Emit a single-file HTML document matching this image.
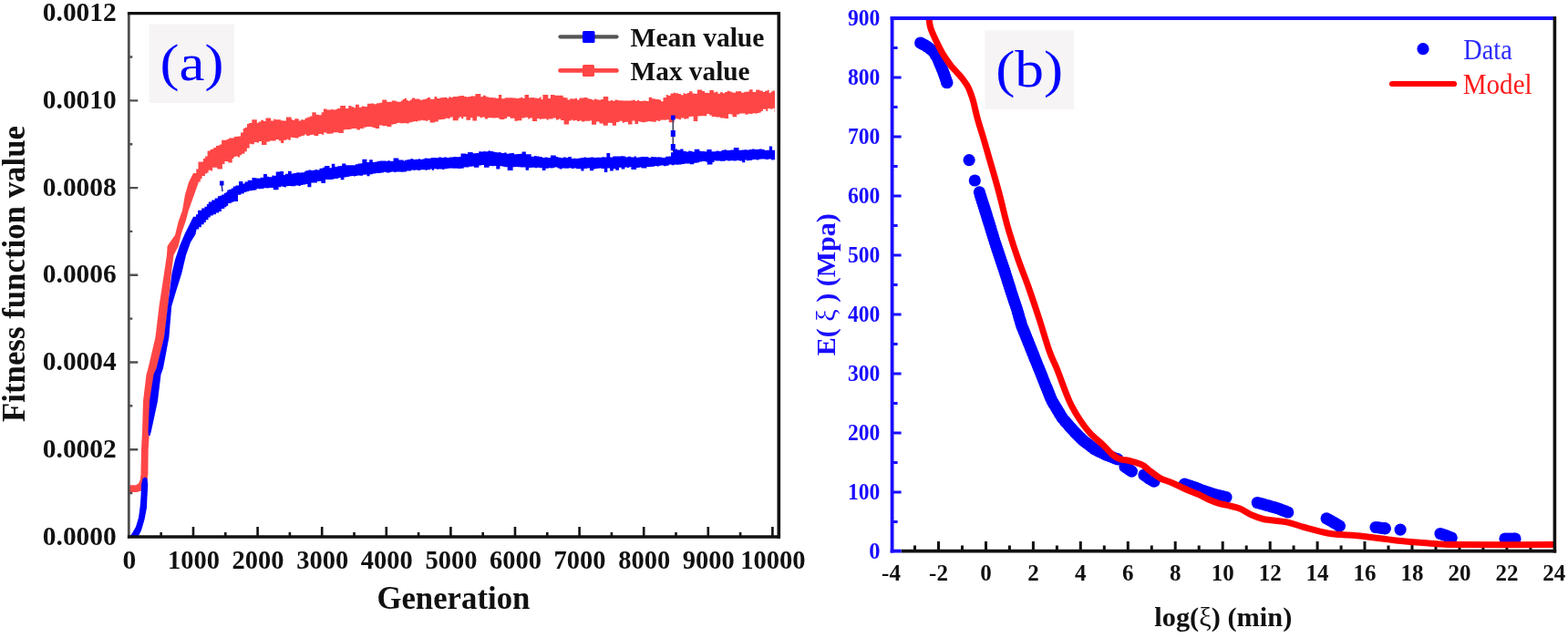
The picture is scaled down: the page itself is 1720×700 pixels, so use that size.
<!DOCTYPE html>
<html><head><meta charset="utf-8"><style>
html,body{margin:0;padding:0;background:#fff;}
svg{display:block;}
.b{font-family:"Liberation Serif","DejaVu Serif",serif;font-weight:bold;fill:#111;}
.lbl{font-family:"Liberation Serif","DejaVu Serif",serif;font-weight:normal;}
.r{font-weight:normal;}
</style></head><body>
<svg width="1720" height="700" viewBox="0 0 1720 700">
<defs><clipPath id="clipb"><rect x="978" y="20" width="728" height="586"/></clipPath></defs>
<rect width="1720" height="700" fill="#fff"/>
<g>
<rect x="163.5" y="26.6" width="93.5" height="86.4" fill="#f6f4f4"/>
<text x="210.5" y="88" class="lbl" font-size="56" fill="#0000ff" text-anchor="middle" textLength="70" lengthAdjust="spacingAndGlyphs">(a)</text>
<path d="M141.5,540 L141.5,532.3 L149,532.3 L152,530.5 L153.8,526.5 L154.5,520 L155,493 L156,474 L157,440 L160.5,411 L162.5,404 L170.5,370 L174.5,336 L180,300 L183,280 L183.6,270 L187,265 L192,258 L195.7,243 L200,231 L202.9,214 L207,200 L212,190.1 L215.3,190.1 L215.3,185.4 L217.5,185.4 L217.5,177.6 L222.9,177.6 L222.9,174.1 L225.1,174.1 L225.1,171.4 L227.6,171.4 L227.6,165.5 L230.7,165.5 L230.7,164 L232.7,164 L232.7,163.4 L234.4,163.4 L234.4,161.9 L236.9,161.9 L236.9,160 L239.5,160 L239.5,159.4 L241.1,159.4 L241.1,158.6 L243.1,158.6 L243.1,153.8 L248.6,153.8 L248.6,152.8 L251.1,152.8 L251.1,151.6 L254.2,151.6 L254.2,151.4 L256.7,151.4 L256.7,150 L259.5,150 L259.5,149.8 L261.7,149.8 L261.7,149.6 L264,149.6 L264,145.6 L266.7,145.6 L266.7,141 L268.6,141 L268.6,139.8 L271,139.8 L271,135.9 L273,135.9 L273,134.9 L276.3,134.9 L276.3,131.3 L281.8,131.3 L281.8,134.8 L283.7,134.8 L283.7,133.5 L286.3,133.5 L286.3,131.7 L289.1,131.7 L289.1,133 L291.5,133 L291.5,129.5 L297.2,129.5 L297.2,132.4 L300.2,132.4 L300.2,130.5 L301.8,130.5 L301.8,131.2 L304.7,131.2 L304.7,131.2 L307.9,131.2 L307.9,132.3 L310.8,132.3 L310.8,132.5 L313.9,132.5 L313.9,128.5 L319.7,128.5 L319.7,131.2 L321.6,131.2 L321.6,132 L323.2,132 L323.2,130.3 L325.8,130.3 L325.8,130.2 L327.7,130.2 L327.7,132.4 L330,132.4 L330,131.2 L332.2,131.2 L332.2,131.6 L334.7,131.6 L334.7,129.5 L337.3,129.5 L337.3,128.4 L340,128.4 L340,127.6 L342.4,127.6 L342.4,123.3 L346.7,123.3 L346.7,125.8 L349.8,125.8 L349.8,126.3 L352.6,126.3 L352.6,123.3 L354.9,123.3 L354.9,119.5 L358.6,119.5 L358.6,120.4 L363.4,120.4 L363.4,119.8 L365.6,119.8 L365.6,120.6 L368.4,120.6 L368.4,119.8 L370.1,119.8 L370.1,118.9 L373.2,118.9 L373.2,115.9 L379,115.9 L379,119.1 L382.3,119.1 L382.3,115.9 L385.4,115.9 L385.4,117.3 L388,117.3 L388,118.2 L390,118.2 L390,114.8 L393.9,114.8 L393.9,117.8 L396.7,117.8 L396.7,116.6 L399.4,116.6 L399.4,116.9 L402.9,116.9 L402.9,113.8 L406.9,113.8 L406.9,113.4 L410,113.4 L410,114.3 L413.1,114.3 L413.1,113.2 L416.4,113.2 L416.4,112.7 L419.2,112.7 L419.2,109.6 L424.2,109.6 L424.2,111.8 L426.4,111.8 L426.4,111.7 L429.7,111.7 L429.7,110.5 L434.7,110.5 L434.7,111.4 L437,111.4 L437,111.7 L439.8,111.7 L439.8,110.6 L441.7,110.6 L441.7,108.8 L444,108.8 L444,107.7 L446,107.7 L446,110.1 L447.8,110.1 L447.8,110.7 L449.9,110.7 L449.9,109.6 L451.8,109.6 L451.8,107.4 L455,107.4 L455,108.4 L458.2,108.4 L458.2,108.5 L460.6,108.5 L460.6,109.8 L463.6,109.8 L463.6,108.9 L466.7,108.9 L466.7,108.3 L469,108.3 L469,107.1 L472,107.1 L472,108.7 L474.6,108.7 L474.6,108.8 L476.5,108.8 L476.5,106 L479.3,106 L479.3,108 L482.7,108 L482.7,107.3 L485,107.3 L485,107 L488.1,107 L488.1,106.7 L490.5,106.7 L490.5,107.9 L492.2,107.9 L492.2,106.3 L494.5,106.3 L494.5,107.1 L496.8,107.1 L496.8,106.1 L499.2,106.1 L499.2,105.9 L502.6,105.9 L502.6,105.3 L505.8,105.3 L505.8,105.1 L509.1,105.1 L509.1,106.1 L511.8,106.1 L511.8,106.4 L513.7,106.4 L513.7,106 L516.8,106 L516.8,105.3 L518.5,105.3 L518.5,105.6 L521.4,105.6 L521.4,103.1 L527.4,103.1 L527.4,106.2 L529.8,106.2 L529.8,104.8 L532.9,104.8 L532.9,106.2 L536.1,106.2 L536.1,106.9 L539,106.9 L539,106.9 L541.1,106.9 L541.1,107.2 L543.7,107.2 L543.7,107.8 L547,107.8 L547,104.1 L550.3,104.1 L550.3,108.2 L553.8,108.2 L553.8,107.2 L556.3,107.2 L556.3,107.3 L560.3,107.3 L560.3,107.3 L562.8,107.3 L562.8,107.4 L565.9,107.4 L565.9,108.1 L569.1,108.1 L569.1,107.6 L571.3,107.6 L571.3,106.8 L573.2,106.8 L573.2,107.7 L575.5,107.7 L575.5,104.1 L580,104.1 L580,107.2 L583.1,107.2 L583.1,107 L586.1,107 L586.1,107.4 L588.5,107.4 L588.5,107.8 L591.7,107.8 L591.7,106.5 L593.7,106.5 L593.7,108.9 L595.4,108.9 L595.4,103.9 L601.3,103.9 L601.3,108.1 L603.9,108.1 L603.9,104 L608.5,104 L608.5,104.7 L612.9,104.7 L612.9,104.8 L617.7,104.8 L617.7,106.8 L619.7,106.8 L619.7,107.3 L622.6,107.3 L622.6,109.4 L625.1,109.4 L625.1,108.2 L628,108.2 L628,108.4 L630.6,108.4 L630.6,107.7 L633,107.7 L633,109.5 L635.5,109.5 L635.5,107.4 L637.8,107.4 L637.8,107.5 L640.3,107.5 L640.3,107 L644.5,107 L644.5,108.3 L647.3,108.3 L647.3,108.7 L649.7,108.7 L649.7,109.7 L651.9,109.7 L651.9,108.5 L654.2,108.5 L654.2,109.3 L656.9,109.3 L656.9,109.8 L659.2,109.8 L659.2,108.9 L661.7,108.9 L661.7,106.1 L667.3,106.1 L667.3,110.7 L669.7,110.7 L669.7,109.9 L672.2,109.9 L672.2,110.7 L674.5,110.7 L674.5,109.5 L676.7,109.5 L676.7,109.7 L678.4,109.7 L678.4,110.2 L680.9,110.2 L680.9,110.2 L682.9,110.2 L682.9,110.5 L685.8,110.5 L685.8,110.6 L688.4,110.6 L688.4,110.5 L691.8,110.5 L691.8,110.2 L693.9,110.2 L693.9,109.8 L696.9,109.8 L696.9,110.9 L698.8,110.9 L698.8,110 L701.3,110 L701.3,110.9 L704.1,110.9 L704.1,110.8 L706.4,110.8 L706.4,110.6 L708.9,110.6 L708.9,110.9 L711.7,110.9 L711.7,106.8 L715.2,106.8 L715.2,108.2 L718.8,108.2 L718.8,108.9 L723.1,108.9 L723.1,109.6 L725.1,109.6 L725.1,111.2 L727.5,111.2 L727.5,107 L730.8,107 L730.8,104.1 L732.5,104.1 L732.5,104.8 L735.6,104.8 L735.6,102.4 L738.9,102.4 L738.9,101.5 L740.5,101.5 L740.5,102.3 L744,102.3 L744,102.9 L746.9,102.9 L746.9,104.3 L749.7,104.3 L749.7,101.9 L751.3,101.9 L751.3,103.1 L753.7,103.1 L753.7,102 L755.9,102 L755.9,100.3 L759.5,100.3 L759.5,102.6 L761.6,102.6 L761.6,102.7 L764.9,102.7 L764.9,98.5 L770.2,98.5 L770.2,99.9 L773.1,99.9 L773.1,101.8 L776.5,101.8 L776.5,102 L778.3,102 L778.3,98.9 L782.9,98.9 L782.9,101.5 L784.7,101.5 L784.7,100.8 L787.4,100.8 L787.4,102.8 L789.9,102.8 L789.9,101.3 L792.9,101.3 L792.9,102.3 L795.2,102.3 L795.2,100.9 L797.6,100.9 L797.6,99.8 L800.5,99.8 L800.5,100.5 L802.7,100.5 L802.7,101.4 L805.1,101.4 L805.1,101.8 L806.9,101.8 L806.9,100.2 L808.8,100.2 L808.8,100.3 L810.8,100.3 L810.8,100.1 L812.9,100.1 L812.9,101.5 L814.7,101.5 L814.7,101.7 L816.4,101.7 L816.4,100.8 L819.6,100.8 L819.6,100.6 L821.9,100.6 L821.9,98.3 L825.7,98.3 L825.7,101.1 L829.2,101.1 L829.2,98.6 L833.3,98.6 L833.3,99.6 L836.7,99.6 L836.7,101.1 L839,101.1 L839,99.8 L841.7,99.8 L841.7,98.8 L843.7,98.8 L843.7,102 L845.6,102 L845.6,100.5 L847.4,100.5 L847.4,99.5 L849.8,99.5 L849.8,100.3 L850,100.3 L850,122.9 L849.6,122.9 L849.6,118.8 L847.4,118.8 L847.4,119.8 L845.2,119.8 L845.2,118.9 L842.2,118.9 L842.2,121.9 L840.3,121.9 L840.3,119.8 L836.9,119.8 L836.9,122.1 L834.8,122.1 L834.8,123.5 L832.9,123.5 L832.9,124 L830.9,124 L830.9,124.6 L828.1,124.6 L828.1,124.3 L825.6,124.3 L825.6,125.1 L823.3,125.1 L823.3,124.8 L820.5,124.8 L820.5,125.7 L817.6,125.7 L817.6,124.4 L814.4,124.4 L814.4,124.5 L811.2,124.5 L811.2,125.6 L808.2,125.6 L808.2,128.3 L803.5,128.3 L803.5,125.5 L801.2,125.5 L801.2,124.9 L799.1,124.9 L799.1,130 L795,130 L795,129.5 L790.1,129.5 L790.1,128.6 L785.1,128.6 L785.1,128 L780.7,128 L780.7,126.6 L778.2,126.6 L778.2,124.9 L775.3,124.9 L775.3,127.2 L772.5,127.2 L772.5,127.1 L770,127.1 L770,127.2 L767,127.2 L767,127.6 L765.3,127.6 L765.3,133 L760.7,133 L760.7,127.8 L757.7,127.8 L757.7,127.9 L755.6,127.9 L755.6,130.3 L753,130.3 L753,130.6 L750.1,130.6 L750.1,129.4 L747,129.4 L747,131.2 L745,131.2 L745,130.4 L742.9,130.4 L742.9,130.3 L739.6,130.3 L739.6,134.3 L733.7,134.3 L733.7,131.3 L730.9,131.3 L730.9,131.8 L728.6,131.8 L728.6,131.6 L726.4,131.6 L726.4,131.8 L724.2,131.8 L724.2,132.9 L722.1,132.9 L722.1,132.3 L719.8,132.3 L719.8,133.8 L716.9,133.8 L716.9,133.6 L713.4,133.6 L713.4,132.9 L710.9,132.9 L710.9,133.5 L709.3,133.5 L709.3,133.8 L707.6,133.8 L707.6,134.3 L704.2,134.3 L704.2,133.7 L701.8,133.7 L701.8,133.2 L700.1,133.2 L700.1,135.9 L696.4,135.9 L696.4,132.6 L693.5,132.6 L693.5,136.5 L689,136.5 L689,133.8 L686.2,133.8 L686.2,133.9 L684.6,133.9 L684.6,134.8 L682.7,134.8 L682.7,132.8 L679.4,132.8 L679.4,134 L676,134 L676,137.7 L671.8,137.7 L671.8,135.1 L670,135.1 L670,134.7 L666.8,134.7 L666.8,137.7 L661.7,137.7 L661.7,135.5 L657.5,135.5 L657.5,133.5 L654.1,133.5 L654.1,136.7 L649,136.7 L649,132.3 L647.3,132.3 L647.3,132.7 L644.6,132.7 L644.6,132.8 L641.3,132.8 L641.3,133.4 L637.8,133.4 L637.8,132.2 L635.9,132.2 L635.9,133.1 L633.1,133.1 L633.1,132 L630.5,132 L630.5,132.6 L628.4,132.6 L628.4,131.6 L626.6,131.6 L626.6,132.6 L624.1,132.6 L624.1,136.4 L618.6,136.4 L618.6,132 L615.2,132 L615.2,130.5 L612.7,130.5 L612.7,131.4 L609.9,131.4 L609.9,129.4 L606.5,129.4 L606.5,130.4 L604.2,130.4 L604.2,130.5 L601.4,130.5 L601.4,131.8 L599.7,131.8 L599.7,130.3 L596.6,130.3 L596.6,130.6 L593.5,130.6 L593.5,131 L591.8,131 L591.8,130 L589.1,130 L589.1,132.9 L584,132.9 L584,129.6 L580.9,129.6 L580.9,130.6 L579.1,130.6 L579.1,128.8 L575.6,128.8 L575.6,129.5 L572.4,129.5 L572.4,132.2 L567.8,132.2 L567.8,132.7 L564.5,132.7 L564.5,129.8 L562.3,129.8 L562.3,129.8 L559.5,129.8 L559.5,128.1 L556.1,128.1 L556.1,129.9 L553.4,129.9 L553.4,130.9 L550.2,130.9 L550.2,130.9 L547.9,130.9 L547.9,129.4 L546.2,129.4 L546.2,129.3 L543.5,129.3 L543.5,129.5 L540.1,129.5 L540.1,129.2 L537.2,129.2 L537.2,129.3 L535,129.3 L535,130.5 L531.8,130.5 L531.8,128.4 L528.9,128.4 L528.9,129.2 L526.6,129.2 L526.6,127.8 L523.1,127.8 L523.1,132.4 L518.4,132.4 L518.4,129.3 L516,129.3 L516,131.8 L511.4,131.8 L511.4,128 L508.3,128 L508.3,130.3 L506.1,130.3 L506.1,128.2 L504.3,128.2 L504.3,129.4 L502.7,129.4 L502.7,132.2 L496.7,132.2 L496.7,128.4 L493.8,128.4 L493.8,130.1 L491.5,130.1 L491.5,129.7 L488.5,129.7 L488.5,130.8 L486,130.8 L486,131 L483.2,131 L483.2,131.3 L480.8,131.3 L480.8,133.4 L477,133.4 L477,134.4 L471.6,134.4 L471.6,131.8 L469.4,131.8 L469.4,132.8 L466.8,132.8 L466.8,132.2 L463.6,132.2 L463.6,131.7 L461.7,131.7 L461.7,132.5 L458.2,132.5 L458.2,133.4 L456.4,133.4 L456.4,133.1 L454.7,133.1 L454.7,133.4 L452,133.4 L452,134.3 L448.7,134.3 L448.7,135.5 L445.7,135.5 L445.7,135.1 L443.6,135.1 L443.6,135.2 L441,135.2 L441,135.2 L439.1,135.2 L439.1,134.8 L436.5,134.8 L436.5,135.1 L434.9,135.1 L434.9,136.1 L432.1,136.1 L432.1,136.5 L429.4,136.5 L429.4,139.1 L424.3,139.1 L424.3,138 L422.3,138 L422.3,138.3 L419.6,138.3 L419.6,137.5 L416.1,137.5 L416.1,140.9 L411.6,140.9 L411.6,139.9 L408.5,139.9 L408.5,139.1 L405.1,139.1 L405.1,138.9 L401.8,138.9 L401.8,139.8 L398.8,139.8 L398.8,141.3 L397.2,141.3 L397.2,140.9 L394.9,140.9 L394.9,142.5 L391.4,142.5 L391.4,141.1 L389.5,141.1 L389.5,141.1 L386.3,141.1 L386.3,141.6 L384.6,141.6 L384.6,142 L382,142 L382,141.9 L378.6,141.9 L378.6,142.4 L376.8,142.4 L376.8,146.1 L371.4,146.1 L371.4,145.2 L365.7,145.2 L365.7,146.4 L362.3,146.4 L362.3,146.8 L358.4,146.8 L358.4,145.5 L355.1,145.5 L355.1,148 L353.5,148 L353.5,147.1 L351,147.1 L351,146.9 L349.3,146.9 L349.3,149 L344.6,149 L344.6,147.8 L342.4,147.8 L342.4,147.9 L339.7,147.9 L339.7,148.9 L336.3,148.9 L336.3,147.6 L334.1,147.6 L334.1,148.8 L332,148.8 L332,149 L330.3,149 L330.3,150 L327.6,150 L327.6,151.6 L325.5,151.6 L325.5,151.6 L323.8,151.6 L323.8,151 L320.8,151 L320.8,150.7 L318.8,150.7 L318.8,153.8 L316.5,153.8 L316.5,152.7 L314.4,152.7 L314.4,153.8 L311.3,153.8 L311.3,157 L308.1,157 L308.1,154.6 L305.8,154.6 L305.8,153 L302.7,153 L302.7,154.4 L299.3,154.4 L299.3,154.6 L295.9,154.6 L295.9,155.5 L292.5,155.5 L292.5,159.1 L287,159.1 L287,155.1 L284.1,155.1 L284.1,156.5 L281.7,156.5 L281.7,156.1 L278.9,156.1 L278.9,158.3 L275.5,158.3 L275.5,157.8 L273.7,157.8 L273.7,162.6 L270.8,162.6 L270.8,166.3 L268.3,166.3 L268.3,168.7 L264.9,168.7 L264.9,170.3 L263,170.3 L263,172.5 L260.9,172.5 L260.9,171.5 L258.5,171.5 L258.5,172.1 L256.4,172.1 L256.4,174.1 L254.7,174.1 L254.7,178.5 L250.3,178.5 L250.3,177 L246.5,177 L246.5,180.1 L243.9,180.1 L243.9,185.6 L238.3,185.6 L238.3,183.8 L236.1,183.8 L236.1,183.8 L233.1,183.8 L233.1,187.4 L231.2,187.4 L231.2,186.7 L228.6,186.7 L228.6,189.6 L226.9,189.6 L226.9,190.4 L224.9,190.4 L224.9,193.1 L221.6,193.1 L221.6,196.3 L219.8,196.3 L219.8,199.6 L218,199.6 L212.9,214 L206.8,231 L203.6,243 L199,256 L195.7,270 L190.5,280 L187.9,300 L184.2,336 L180.3,370 L171.7,404 L169.7,411 L166.3,440 L164,474 L162.7,493 L162.4,520 L161.5,527 L159,533.5 L155,538.5 L150,540Z" fill="#ff4646"/>
<path d="M163,478 L162.5,474 L164,440 L168.5,411 L171.5,404 L180,370 L184,336 L188.5,300 L192,285 L197,270 L202.5,257 L212.1,237.7 L215,237.7 L215,235.2 L217,235.2 L217,230.8 L221.2,230.8 L221.2,228.5 L224.4,228.5 L224.4,226.7 L226.9,226.7 L226.9,224 L228.8,224 L228.8,221.5 L232.3,221.5 L232.3,219.5 L235.7,219.5 L235.7,217.5 L238.9,217.5 L238.9,215.2 L240.9,215.2 L240.9,214.7 L243.2,214.7 L243.2,213.6 L245.8,213.6 L245.8,211.9 L247.7,211.9 L247.7,210.7 L249.3,210.7 L249.3,208.5 L251.3,208.5 L251.3,207.8 L253.8,207.8 L253.8,206.6 L255.9,206.6 L255.9,204.5 L258.5,204.5 L258.5,203.4 L262,203.4 L262,198.9 L266.4,198.9 L266.4,201.6 L268.5,201.6 L268.5,199.5 L271.7,199.5 L271.7,197.7 L274.1,197.7 L274.1,197.8 L276.5,197.8 L276.5,194.9 L280.3,194.9 L280.3,195.6 L283.3,195.6 L283.3,195.8 L285.5,195.8 L285.5,194.8 L289,194.8 L289,190.9 L292.9,190.9 L292.9,193.7 L295.1,193.7 L295.1,194.2 L298.4,194.2 L298.4,192.4 L300,192.4 L300,192.8 L302.7,192.8 L302.7,188.5 L306.8,188.5 L306.8,188.1 L311.1,188.1 L311.1,191.9 L313,191.9 L313,190.7 L316,190.7 L316,187.7 L319.7,187.7 L319.7,190.5 L322.1,190.5 L322.1,190.1 L325.2,190.1 L325.2,189.3 L328.4,189.3 L328.4,189.5 L330.5,189.5 L330.5,189.3 L333.7,189.3 L333.7,188.3 L335.3,188.3 L335.3,187.2 L338.2,187.2 L338.2,186.6 L341.4,186.6 L341.4,186.9 L343.9,186.9 L343.9,186.6 L346.1,186.6 L346.1,186 L348,186 L348,186.6 L350.5,186.6 L350.5,184.8 L353.9,184.8 L353.9,183.7 L356,183.7 L356,182 L361.5,182 L361.5,184.2 L363.8,184.2 L363.8,179.7 L367.4,179.7 L367.4,183 L370.1,183 L370.1,182.2 L373.2,182.2 L373.2,182 L375.2,182 L375.2,179.5 L379.4,179.5 L379.4,181.2 L381.6,181.2 L381.6,181.3 L384.2,181.3 L384.2,181.2 L386.7,181.2 L386.7,181.2 L389.8,181.2 L389.8,180.2 L392.6,180.2 L392.6,179.6 L395.6,179.6 L395.6,179.2 L397.4,179.2 L397.4,174.7 L402.4,174.7 L402.4,177.9 L405.2,177.9 L405.2,175.2 L408.8,175.2 L408.8,178.1 L411.4,178.1 L411.4,177.4 L414,177.4 L414,176.8 L416.9,176.8 L416.9,176.6 L418.7,176.6 L418.7,176.5 L420.8,176.5 L420.8,176.4 L423.4,176.4 L423.4,176.7 L425.7,176.7 L425.7,176.1 L427.3,176.1 L427.3,176.8 L429,176.8 L429,176.8 L431.6,176.8 L431.6,173.4 L437.3,173.4 L437.3,175.6 L439.6,175.6 L439.6,175.5 L442.7,175.5 L442.7,176.4 L444.3,176.4 L444.3,175.4 L447.2,175.4 L447.2,175.1 L450.4,175.1 L450.4,174 L452.6,174 L452.6,174.7 L454.3,174.7 L454.3,174.9 L456.2,174.9 L456.2,174.7 L459.1,174.7 L459.1,174.2 L461.1,174.2 L461.1,174.9 L463.2,174.9 L463.2,174.6 L465.7,174.6 L465.7,173.4 L468.2,173.4 L468.2,173.7 L470.7,173.7 L470.7,173.8 L472.8,173.8 L472.8,173 L475.9,173 L475.9,172.9 L478.5,172.9 L478.5,173.3 L480.8,173.3 L480.8,172.6 L484.3,172.6 L484.3,173.1 L486.7,173.1 L486.7,172.5 L490.1,172.5 L490.1,173 L493,173 L493,172.4 L496.4,172.4 L496.4,172.2 L498.2,172.2 L498.2,172.1 L500.5,172.1 L500.5,172.3 L503.8,172.3 L503.8,171.9 L505.5,171.9 L505.5,168.5 L511.4,168.5 L511.4,169 L513,169 L513,166.9 L518.7,166.9 L518.7,168.3 L521.8,168.3 L521.8,168.1 L525.2,168.1 L525.2,166.2 L528.5,166.2 L528.5,166.4 L530.2,166.4 L530.2,166.1 L532.3,166.1 L532.3,166.3 L535.6,166.3 L535.6,165.3 L537.3,165.3 L537.3,165.8 L539.3,165.8 L539.3,165.9 L540.9,165.9 L540.9,166.5 L542.7,166.5 L542.7,167 L544.6,167 L544.6,167.2 L547.5,167.2 L547.5,167.1 L549.6,167.1 L549.6,167.9 L552.9,167.9 L552.9,167.5 L555.8,167.5 L555.8,168.7 L558.1,168.7 L558.1,168.3 L560.8,168.3 L560.8,168 L563.9,168 L563.9,169.2 L567,169.2 L567,169.1 L570,169.1 L570,168.8 L572.6,168.8 L572.6,166.4 L576.9,166.4 L576.9,169.2 L582.7,169.2 L582.7,171.8 L586,171.8 L586,171.1 L588.5,171.1 L588.5,171.5 L591.6,171.5 L591.6,171.9 L594.9,171.9 L594.9,173 L597.7,173 L597.7,172.5 L600.5,172.5 L600.5,172.9 L604,172.9 L604,170.6 L609.8,170.6 L609.8,171.9 L612.2,171.9 L612.2,172.8 L614.9,172.8 L614.9,173.3 L617.8,173.3 L617.8,172.6 L620.9,172.6 L620.9,172.9 L623.3,172.9 L623.3,171.9 L626.9,171.9 L626.9,174.1 L629.4,174.1 L629.4,173.7 L631.6,173.7 L631.6,173.9 L634.4,173.9 L634.4,173.5 L637.7,173.5 L637.7,173 L640.6,173 L640.6,172.4 L643.1,172.4 L643.1,173 L646.3,173 L646.3,172.8 L648.1,172.8 L648.1,172.6 L651.4,172.6 L651.4,173.1 L653.7,173.1 L653.7,172.8 L657.1,172.8 L657.1,172.7 L660.4,172.7 L660.4,172.2 L662.9,172.2 L662.9,172.4 L665.4,172.4 L665.4,167.9 L669.2,167.9 L669.2,172.5 L672.4,172.5 L672.4,171.6 L675.1,171.6 L675.1,171.6 L678.3,171.6 L678.3,171.5 L681.1,171.5 L681.1,171.2 L684.4,171.2 L684.4,171.4 L686.3,171.4 L686.3,172.6 L688.5,172.6 L688.5,171.7 L690.3,171.7 L690.3,171.7 L692.2,171.7 L692.2,172.4 L695.6,172.4 L695.6,171.5 L697.9,171.5 L697.9,172.7 L700.4,172.7 L700.4,172.4 L702.7,172.4 L702.7,171.9 L705.6,171.9 L705.6,172 L708.9,172 L708.9,172 L711.4,172 L711.4,172.9 L714,172.9 L714,172.1 L716.5,172.1 L716.5,172.2 L719.7,172.2 L719.7,172.4 L721.6,172.4 L721.6,172.3 L723.3,172.3 L723.3,172.6 L726.2,172.6 L726.2,173 L728.2,173 L728.2,173.1 L730,173.1 L730,171.7 L733.4,171.7 L733.4,171.4 L736,171.4 L736,167.2 L738.2,167.2 L738.2,163.9 L741.3,163.9 L741.3,163.6 L743,163.6 L743,164.5 L746.3,164.5 L746.3,163.5 L749.5,163.5 L749.5,165.8 L751.4,165.8 L751.4,166 L753.1,166 L753.1,166.5 L755.2,166.5 L755.2,165.5 L756.8,165.5 L756.8,165.8 L759.4,165.8 L759.4,166.5 L761.8,166.5 L761.8,163.7 L767.3,163.7 L767.3,165.8 L769.3,165.8 L769.3,166.1 L772.6,166.1 L772.6,166.2 L775.4,166.2 L775.4,164 L780.6,164 L780.6,166.3 L782.6,166.3 L782.6,166.3 L785.5,166.3 L785.5,165.6 L788.5,165.6 L788.5,165.9 L791.5,165.9 L791.5,164.8 L794.4,164.8 L794.4,164.2 L796.9,164.2 L796.9,164.9 L799.7,164.9 L799.7,164.7 L802.1,164.7 L802.1,164.6 L804.8,164.6 L804.8,162.1 L810.5,162.1 L810.5,164.8 L813.7,164.8 L813.7,164.5 L816.4,164.5 L816.4,164.2 L819,164.2 L819,164.5 L822,164.5 L822,164.1 L824.9,164.1 L824.9,163.5 L827.9,163.5 L827.9,164.1 L831.3,164.1 L831.3,163.7 L833,163.7 L833,163.6 L836,163.6 L836,164.1 L838.7,164.1 L838.7,165.1 L841,165.1 L841,164.8 L843.8,164.8 L843.8,160.6 L847.1,160.6 L847.1,164.8 L850,164.8 L850,175.1 L848.9,175.1 L848.9,175.4 L846.1,175.4 L846.1,174.6 L843,174.6 L843,174.9 L839.7,174.9 L839.7,174.4 L836.9,174.4 L836.9,174.6 L834.3,174.6 L834.3,174.7 L832.2,174.7 L832.2,175.5 L829.8,175.5 L829.8,175.1 L826.4,175.1 L826.4,175.2 L824.8,175.2 L824.8,176.1 L821.4,176.1 L821.4,176.3 L819.1,176.3 L819.1,175.5 L817.3,175.5 L817.3,178.3 L814.1,178.3 L814.1,176.6 L810.8,176.6 L810.8,176.1 L807.8,176.1 L807.8,176.6 L804.4,176.6 L804.4,176.2 L801.1,176.2 L801.1,176.5 L798.2,176.5 L798.2,176.1 L795.6,176.1 L795.6,176.7 L792.4,176.7 L792.4,176.7 L790,176.7 L790,176.4 L787.2,176.4 L787.2,176.4 L785.1,176.4 L785.1,176.2 L783.5,176.2 L783.5,177.9 L781.5,177.9 L781.5,180.6 L775.7,180.6 L775.7,177.4 L773.9,177.4 L773.9,177 L772,177 L772,177.1 L769.9,177.1 L769.9,177.6 L766.7,177.6 L766.7,178.5 L764.2,178.5 L764.2,178.8 L761.3,178.8 L761.3,180.2 L756.8,180.2 L756.8,179.5 L753.9,179.5 L753.9,179.5 L751,179.5 L751,180 L747.8,180 L747.8,180.4 L744.6,180.4 L744.6,180.7 L741.8,180.7 L741.8,180.4 L739.7,180.4 L739.7,181.2 L736.7,181.2 L736.7,180.6 L733.7,180.6 L733.7,181.7 L730.7,181.7 L730.7,182.2 L727.9,182.2 L727.9,181.4 L724.9,181.4 L724.9,181.8 L723.1,181.8 L723.1,182.5 L720.5,182.5 L720.5,181.9 L718.2,181.9 L718.2,182.7 L715,182.7 L715,182.9 L713,182.9 L713,182.9 L709.5,182.9 L709.5,184.5 L703.6,184.5 L703.6,183.4 L701.3,183.4 L701.3,183.9 L698.1,183.9 L698.1,186 L692.4,186 L692.4,183.2 L690.2,183.2 L690.2,184 L687.9,184 L687.9,183.5 L685.4,183.5 L685.4,185.6 L681.6,185.6 L681.6,183.7 L679,183.7 L679,186.8 L675.3,186.8 L675.3,185.2 L672.8,185.2 L672.8,187.4 L669,187.4 L669,184.4 L666.3,184.4 L666.3,189.1 L662.8,189.1 L662.8,184.9 L659.5,184.9 L659.5,184.6 L657.5,184.6 L657.5,184.7 L655.5,184.7 L655.5,184.9 L653.1,184.9 L653.1,185.4 L651.1,185.4 L651.1,187.2 L647,187.2 L647,184.6 L643.9,184.6 L643.9,185 L640.5,185 L640.5,187.6 L637.4,187.6 L637.4,185.3 L635,185.3 L635,185.2 L632.2,185.2 L632.2,184.6 L629.7,184.6 L629.7,184.9 L626.6,184.9 L626.6,184.3 L624.2,184.3 L624.2,184.7 L621.5,184.7 L621.5,184.8 L619.4,184.8 L619.4,184.5 L616.7,184.5 L616.7,185.5 L613.7,185.5 L613.7,184.4 L611.5,184.4 L611.5,183.5 L608.2,183.5 L608.2,184.2 L606.2,184.2 L606.2,184.6 L604.2,184.6 L604.2,184.2 L601.8,184.2 L601.8,184.8 L598.5,184.8 L598.5,187.1 L594.8,187.1 L594.8,184.3 L591.6,184.3 L591.6,183.8 L589.5,183.8 L589.5,184.3 L586.6,184.3 L586.6,183.7 L583.3,183.7 L583.3,184 L580,184 L580,186.8 L576.6,186.8 L576.6,183.4 L573.8,183.4 L573.8,183.6 L570.7,183.6 L570.7,183.2 L567.7,183.2 L567.7,182.9 L565.3,182.9 L565.3,183.3 L562.6,183.3 L562.6,186.9 L556.7,186.9 L556.7,183.3 L553.3,183.3 L553.3,182.8 L551.2,182.8 L551.2,182.3 L548.4,182.3 L548.4,185.5 L544.3,185.5 L544.3,182 L541.8,182 L541.8,182.3 L539.6,182.3 L539.6,182 L536.6,182 L536.6,183.8 L531,183.8 L531,181.1 L528.1,181.1 L528.1,181.4 L525.4,181.4 L525.4,183.8 L520,183.8 L520,182.6 L517.5,182.6 L517.5,182.8 L514.6,182.8 L514.6,183.5 L511.3,183.5 L511.3,183.6 L508.7,183.6 L508.7,184.8 L505.4,184.8 L505.4,184.9 L502.2,184.9 L502.2,184.8 L499,184.8 L499,184.7 L495.9,184.7 L495.9,184.4 L494,184.4 L494,184.8 L490.8,184.8 L490.8,185.2 L487.5,185.2 L487.5,185.9 L485.1,185.9 L485.1,185.5 L482.7,185.5 L482.7,185.5 L480.9,185.5 L480.9,185.8 L478.8,185.8 L478.8,185.3 L476.1,185.3 L476.1,186.7 L473.8,186.7 L473.8,185.6 L471.8,185.6 L471.8,186.3 L468.6,186.3 L468.6,186.7 L466.5,186.7 L466.5,186.2 L463.2,186.2 L463.2,186.2 L461.2,186.2 L461.2,187.1 L458.5,187.1 L458.5,186.6 L455.3,186.6 L455.3,186.9 L453.7,186.9 L453.7,186.5 L451.2,186.5 L451.2,187.6 L449,187.6 L449,187.4 L445.9,187.4 L445.9,188.5 L442.6,188.5 L442.6,188.8 L439.6,188.8 L439.6,188.4 L436.4,188.4 L436.4,188.4 L434.5,188.4 L434.5,189.1 L432.2,189.1 L432.2,188.5 L429.1,188.5 L429.1,189 L427.3,189 L427.3,189.4 L423.8,189.4 L423.8,188.7 L420.8,188.7 L420.8,189.6 L417.5,189.6 L417.5,190 L415.2,190 L415.2,189.9 L411.9,189.9 L411.9,190.5 L408.7,190.5 L408.7,191.3 L405.6,191.3 L405.6,193.3 L402.5,193.3 L402.5,191.4 L400.7,191.4 L400.7,191.7 L398,191.7 L398,192.8 L394.6,192.8 L394.6,192.4 L392,192.4 L392,193 L389.6,193 L389.6,193.6 L388,193.6 L388,192.9 L386.2,192.9 L386.2,193.2 L383.3,193.2 L383.3,194 L379.9,194 L379.9,194.6 L377.4,194.6 L377.4,197.3 L373.7,197.3 L373.7,195.1 L371.3,195.1 L371.3,195.9 L369.6,195.9 L369.6,196 L366.2,196 L366.2,196.7 L364,196.7 L364,197 L361.9,197 L361.9,197 L360.1,197 L360.1,197 L357,197 L357,201.1 L352.4,201.1 L352.4,198.8 L349.6,198.8 L349.6,198.9 L347.9,198.9 L347.9,200.4 L344.9,200.4 L344.9,200.4 L341.4,200.4 L341.4,205.3 L337.4,205.3 L337.4,202 L335.4,202 L335.4,202.6 L332.4,202.6 L332.4,202.9 L329.8,202.9 L329.8,204.1 L327.6,204.1 L327.6,203.4 L324.2,203.4 L324.2,204.3 L321.5,204.3 L321.5,204.3 L319,204.3 L319,203.9 L316.1,203.9 L316.1,204.3 L313.8,204.3 L313.8,205.4 L312.1,205.4 L312.1,205 L310.4,205 L310.4,204.4 L308.2,204.4 L308.2,205.3 L305.5,205.3 L305.5,208.2 L299.8,208.2 L299.8,206.1 L296.6,206.1 L296.6,205.9 L294.7,205.9 L294.7,206.5 L292.7,206.5 L292.7,206.2 L289.4,206.2 L289.4,207 L286.7,207 L286.7,207.3 L283.6,207.3 L283.6,206.9 L281.5,206.9 L281.5,208.5 L279.6,208.5 L279.6,208.7 L276.5,208.7 L276.5,209.2 L273.2,209.2 L273.2,209.9 L270.6,209.9 L270.6,210.7 L267.7,210.7 L267.7,212.5 L264.3,212.5 L264.3,213.7 L261,213.7 L261,221.1 L256.1,221.1 L256.1,221.8 L253.8,221.8 L253.8,223.1 L250.3,223.1 L250.3,225.8 L248.4,225.8 L248.4,227.3 L246.3,227.3 L246.3,229 L242.9,229 L242.9,231.9 L240.2,231.9 L240.2,233.6 L236.9,233.6 L236.9,235.3 L233.7,235.3 L233.7,236.6 L230.8,236.6 L230.8,238.5 L228.5,238.5 L228.5,241.3 L225.8,241.3 L225.8,244 L223.7,244 L223.7,246.3 L220.9,246.3 L220.9,249.2 L218.1,249.2 L218.1,251.6 L215.6,251.6 L214.5,257 L209,266 L204,280 L199.3,300 L193,320 L188.2,336 L185.4,370 L179,404 L176.5,411 L173,440 L165.7,474 L164.5,478Z" fill="#0000ff"/>
<path d="M141,590 L145,585 L149,578 L152,568 L153.5,557 L154.5,545 L155,532 L156.5,525 L159,523.5 L161.5,525 L162.3,532 L161.5,545 L161,557 L158.5,570 L155,582 L151,590Z" fill="#0000ff"/>
<line x1="243" y1="201" x2="244" y2="210" stroke="#2020a0" stroke-width="1.5"/><rect x="241" y="198.5" width="4.5" height="5" fill="#0000ee"/>
<line x1="738.3" y1="129" x2="738.3" y2="166" stroke="#404060" stroke-width="1.6"/>
<rect x="736" y="126.5" width="4.6" height="5" fill="#0000ff"/><rect x="735.8" y="143" width="5" height="7" fill="#0000ff"/><rect x="735.8" y="158" width="5" height="7" fill="#0000ff"/>
<line x1="141.3" y1="14.7" x2="141.3" y2="590.5" stroke="#505050" stroke-width="2.8"/>
<line x1="139.9" y1="14.7" x2="855.8" y2="14.7" stroke="#111" stroke-width="3.2"/>
<line x1="854.3" y1="13.1" x2="854.3" y2="590.7" stroke="#111" stroke-width="3.6"/>
<line x1="139.9" y1="589" x2="855.8" y2="589" stroke="#111" stroke-width="3.4"/>
<path d="M141.3,541 h4 M141.3,493.2 h10 M141.3,445.3 h4 M141.3,397.5 h10 M141.3,349.6 h4 M141.3,301.8 h10 M141.3,253.9 h4 M141.3,206.1 h10 M141.3,158.2 h4 M141.3,110.4 h10 M141.3,62.5 h4" stroke="#505050" stroke-width="2.4" fill="none"/>
<path d="M176.7,589 v-5 M212,589 v-11 M247.3,589 v-5 M282.6,589 v-11 M317.9,589 v-5 M353.2,589 v-11 M388.5,589 v-5 M423.8,589 v-11 M459.1,589 v-5 M494.4,589 v-11 M529.7,589 v-5 M565,589 v-11 M600.3,589 v-5 M635.6,589 v-11 M670.9,589 v-5 M706.2,589 v-11 M741.5,589 v-5 M776.8,589 v-11 M812.1,589 v-5 M847.4,589 v-11" stroke="#111" stroke-width="2.6" fill="none"/>
<text x="127.8" y="597.5" class="b" font-size="29.5" text-anchor="end" textLength="81" lengthAdjust="spacingAndGlyphs">0.0000</text>
<text x="127.8" y="501.8" class="b" font-size="29.5" text-anchor="end" textLength="81" lengthAdjust="spacingAndGlyphs">0.0002</text>
<text x="127.8" y="406.1" class="b" font-size="29.5" text-anchor="end" textLength="81" lengthAdjust="spacingAndGlyphs">0.0004</text>
<text x="127.8" y="310.4" class="b" font-size="29.5" text-anchor="end" textLength="81" lengthAdjust="spacingAndGlyphs">0.0006</text>
<text x="127.8" y="214.7" class="b" font-size="29.5" text-anchor="end" textLength="81" lengthAdjust="spacingAndGlyphs">0.0008</text>
<text x="127.8" y="119" class="b" font-size="29.5" text-anchor="end" textLength="81" lengthAdjust="spacingAndGlyphs">0.0010</text>
<text x="127.8" y="23.3" class="b" font-size="29.5" text-anchor="end" textLength="81" lengthAdjust="spacingAndGlyphs">0.0012</text>
<text x="141.9" y="624.3" class="b" font-size="29.5" text-anchor="middle">0</text>
<text x="212.5" y="624.3" class="b" font-size="29.5" text-anchor="middle" textLength="57" lengthAdjust="spacingAndGlyphs">1000</text>
<text x="283.1" y="624.3" class="b" font-size="29.5" text-anchor="middle" textLength="57" lengthAdjust="spacingAndGlyphs">2000</text>
<text x="353.7" y="624.3" class="b" font-size="29.5" text-anchor="middle" textLength="57" lengthAdjust="spacingAndGlyphs">3000</text>
<text x="424.3" y="624.3" class="b" font-size="29.5" text-anchor="middle" textLength="57" lengthAdjust="spacingAndGlyphs">4000</text>
<text x="494.9" y="624.3" class="b" font-size="29.5" text-anchor="middle" textLength="57" lengthAdjust="spacingAndGlyphs">5000</text>
<text x="565.5" y="624.3" class="b" font-size="29.5" text-anchor="middle" textLength="57" lengthAdjust="spacingAndGlyphs">6000</text>
<text x="636.1" y="624.3" class="b" font-size="29.5" text-anchor="middle" textLength="57" lengthAdjust="spacingAndGlyphs">7000</text>
<text x="706.7" y="624.3" class="b" font-size="29.5" text-anchor="middle" textLength="57" lengthAdjust="spacingAndGlyphs">8000</text>
<text x="777.3" y="624.3" class="b" font-size="29.5" text-anchor="middle" textLength="57" lengthAdjust="spacingAndGlyphs">9000</text>
<text x="847.9" y="624.3" class="b" font-size="29.5" text-anchor="middle" textLength="71.5" lengthAdjust="spacingAndGlyphs">10000</text>
<text x="497.4" y="667.8" class="b" font-size="36" text-anchor="middle" textLength="168" lengthAdjust="spacingAndGlyphs">Generation</text>
<text transform="translate(26.6,300.5) rotate(-90)" class="b" font-size="35" text-anchor="middle" textLength="325" lengthAdjust="spacingAndGlyphs">Fitness function value</text>
<line x1="614.5" y1="40.3" x2="676.5" y2="40.3" stroke="#555" stroke-width="4.2" stroke-linecap="round"/>
<rect x="639" y="34" width="13.5" height="13" rx="1.5" fill="#0000ff"/>
<line x1="614.5" y1="77.4" x2="676.5" y2="77.4" stroke="#ff4646" stroke-width="4.6" stroke-linecap="round"/>
<rect x="639" y="71" width="13" height="13" rx="1.5" fill="#ff4646"/>
<text x="691.6" y="50.5" class="b" font-size="29" textLength="146.8" lengthAdjust="spacingAndGlyphs">Mean value</text>
<text x="691.6" y="87.6" class="b" font-size="29" textLength="131" lengthAdjust="spacingAndGlyphs">Max value</text>
</g>
<g>
<rect x="1080.4" y="33.4" width="97.5" height="86.4" fill="#f6f4f4"/>
<text x="1129.2" y="94.5" class="lbl" font-size="56" fill="#0000ff" text-anchor="middle" textLength="74" lengthAdjust="spacingAndGlyphs">(b)</text>
<path d="M978.6,572.5 h6 M978.6,540 h10 M978.6,507.5 h6 M978.6,475 h10 M978.6,442.5 h6 M978.6,410 h10 M978.6,377.5 h6 M978.6,345 h10 M978.6,312.5 h6 M978.6,280 h10 M978.6,247.5 h6 M978.6,215 h10 M978.6,182.5 h6 M978.6,150 h10 M978.6,117.5 h6 M978.6,85 h10 M978.6,52.5 h6" stroke="#1a0dff" stroke-width="3" fill="none"/>
<path d="M1003.5,604.6 v-6 M1029.5,604.6 v-10.5 M1055.5,604.6 v-6 M1081.5,604.6 v-10.5 M1107.4,604.6 v-6 M1133.4,604.6 v-10.5 M1159.4,604.6 v-6 M1185.3,604.6 v-10.5 M1211.3,604.6 v-6 M1237.3,604.6 v-10.5 M1263.3,604.6 v-6 M1289.2,604.6 v-10.5 M1315.2,604.6 v-6 M1341.2,604.6 v-10.5 M1367.2,604.6 v-6 M1393.2,604.6 v-10.5 M1419.1,604.6 v-6 M1445.1,604.6 v-10.5 M1471.1,604.6 v-6 M1497,604.6 v-10.5 M1523,604.6 v-6 M1549,604.6 v-10.5 M1575,604.6 v-6 M1601,604.6 v-10.5 M1626.9,604.6 v-6 M1652.9,604.6 v-10.5 M1678.9,604.6 v-6" stroke="#111" stroke-width="3" fill="none"/>
<g fill="#0000ff">
<circle cx="1009.7" cy="47" r="6.6"/>
<circle cx="1012.5" cy="48.5" r="6.6"/>
<circle cx="1015.3" cy="50.1" r="6.6"/>
<circle cx="1018" cy="51.8" r="6.6"/>
<circle cx="1020.5" cy="53.8" r="6.6"/>
<circle cx="1023.1" cy="55.7" r="6.6"/>
<circle cx="1025.1" cy="58.1" r="6.6"/>
<circle cx="1026.7" cy="60.9" r="6.6"/>
<circle cx="1028.3" cy="63.6" r="6.6"/>
<circle cx="1029.6" cy="66.6" r="6.6"/>
<circle cx="1030.8" cy="69.5" r="6.6"/>
<circle cx="1032.1" cy="72.5" r="6.6"/>
<circle cx="1033.3" cy="75.4" r="6.6"/>
<circle cx="1034.5" cy="78.4" r="6.6"/>
<circle cx="1035.6" cy="81.4" r="6.6"/>
<circle cx="1036.7" cy="84.4" r="6.6"/>
<circle cx="1037.7" cy="87.4" r="6.6"/>
<circle cx="1038.7" cy="90.5" r="6.6"/>
<circle cx="1038.8" cy="90.7" r="6.6"/>
<circle cx="1063.1" cy="175.6" r="6.6"/>
<circle cx="1069.3" cy="198" r="6.6"/>
<circle cx="1074.4" cy="210.8" r="6.6"/>
<circle cx="1075.3" cy="213.9" r="6.6"/>
<circle cx="1076.3" cy="216.9" r="6.6"/>
<circle cx="1077.2" cy="220" r="6.6"/>
<circle cx="1078.2" cy="223" r="6.6"/>
<circle cx="1079.1" cy="226.1" r="6.6"/>
<circle cx="1080.1" cy="229.1" r="6.6"/>
<circle cx="1081" cy="232.2" r="6.6"/>
<circle cx="1082" cy="235.2" r="6.6"/>
<circle cx="1082.9" cy="238.3" r="6.6"/>
<circle cx="1083.9" cy="241.4" r="6.6"/>
<circle cx="1084.8" cy="244.4" r="6.6"/>
<circle cx="1085.8" cy="247.5" r="6.6"/>
<circle cx="1086.7" cy="250.5" r="6.6"/>
<circle cx="1087.6" cy="253.6" r="6.6"/>
<circle cx="1088.6" cy="256.7" r="6.6"/>
<circle cx="1089.5" cy="259.7" r="6.6"/>
<circle cx="1090.5" cy="262.8" r="6.6"/>
<circle cx="1091.4" cy="265.8" r="6.6"/>
<circle cx="1092.5" cy="268.9" r="6.6"/>
<circle cx="1093.5" cy="271.9" r="6.6"/>
<circle cx="1094.5" cy="274.9" r="6.6"/>
<circle cx="1095.5" cy="278" r="6.6"/>
<circle cx="1096.5" cy="281" r="6.6"/>
<circle cx="1097.5" cy="284" r="6.6"/>
<circle cx="1098.5" cy="287.1" r="6.6"/>
<circle cx="1099.5" cy="290.1" r="6.6"/>
<circle cx="1100.5" cy="293.1" r="6.6"/>
<circle cx="1101.6" cy="296.2" r="6.6"/>
<circle cx="1102.5" cy="299.2" r="6.6"/>
<circle cx="1103.5" cy="302.3" r="6.6"/>
<circle cx="1104.5" cy="305.3" r="6.6"/>
<circle cx="1105.4" cy="308.4" r="6.6"/>
<circle cx="1106.4" cy="311.4" r="6.6"/>
<circle cx="1107.4" cy="314.5" r="6.6"/>
<circle cx="1108.3" cy="317.5" r="6.6"/>
<circle cx="1109.3" cy="320.6" r="6.6"/>
<circle cx="1110.3" cy="323.6" r="6.6"/>
<circle cx="1111.3" cy="326.7" r="6.6"/>
<circle cx="1112.3" cy="329.7" r="6.6"/>
<circle cx="1113.3" cy="332.7" r="6.6"/>
<circle cx="1114.4" cy="335.8" r="6.6"/>
<circle cx="1115.4" cy="338.8" r="6.6"/>
<circle cx="1116.3" cy="341.9" r="6.6"/>
<circle cx="1117.2" cy="344.9" r="6.6"/>
<circle cx="1118" cy="348" r="6.6"/>
<circle cx="1118.9" cy="351.1" r="6.6"/>
<circle cx="1119.8" cy="354.2" r="6.6"/>
<circle cx="1120.7" cy="357.3" r="6.6"/>
<circle cx="1121.9" cy="360.2" r="6.6"/>
<circle cx="1123.1" cy="363.2" r="6.6"/>
<circle cx="1124.3" cy="366.1" r="6.6"/>
<circle cx="1125.5" cy="369.1" r="6.6"/>
<circle cx="1126.7" cy="372.1" r="6.6"/>
<circle cx="1127.9" cy="375" r="6.6"/>
<circle cx="1129.1" cy="378" r="6.6"/>
<circle cx="1130.3" cy="381" r="6.6"/>
<circle cx="1131.5" cy="383.9" r="6.6"/>
<circle cx="1132.7" cy="386.9" r="6.6"/>
<circle cx="1133.9" cy="389.9" r="6.6"/>
<circle cx="1135" cy="392.9" r="6.6"/>
<circle cx="1136.2" cy="395.8" r="6.6"/>
<circle cx="1137.4" cy="398.8" r="6.6"/>
<circle cx="1138.6" cy="401.8" r="6.6"/>
<circle cx="1139.8" cy="404.7" r="6.6"/>
<circle cx="1141" cy="407.7" r="6.6"/>
<circle cx="1142.2" cy="410.7" r="6.6"/>
<circle cx="1143.4" cy="413.7" r="6.6"/>
<circle cx="1144.5" cy="416.6" r="6.6"/>
<circle cx="1145.7" cy="419.6" r="6.6"/>
<circle cx="1146.9" cy="422.6" r="6.6"/>
<circle cx="1148.1" cy="425.5" r="6.6"/>
<circle cx="1149.3" cy="428.5" r="6.6"/>
<circle cx="1150.5" cy="431.5" r="6.6"/>
<circle cx="1151.7" cy="434.5" r="6.6"/>
<circle cx="1152.9" cy="437.4" r="6.6"/>
<circle cx="1154.3" cy="440.3" r="6.6"/>
<circle cx="1155.9" cy="443" r="6.6"/>
<circle cx="1157.6" cy="445.8" r="6.6"/>
<circle cx="1159.2" cy="448.5" r="6.6"/>
<circle cx="1160.9" cy="451.3" r="6.6"/>
<circle cx="1162.5" cy="454" r="6.6"/>
<circle cx="1164.1" cy="456.7" r="6.6"/>
<circle cx="1165.9" cy="459.4" r="6.6"/>
<circle cx="1168" cy="461.8" r="6.6"/>
<circle cx="1170.1" cy="464.2" r="6.6"/>
<circle cx="1172.2" cy="466.6" r="6.6"/>
<circle cx="1174.3" cy="469" r="6.6"/>
<circle cx="1176.5" cy="471.4" r="6.6"/>
<circle cx="1178.7" cy="473.8" r="6.6"/>
<circle cx="1180.9" cy="476" r="6.6"/>
<circle cx="1183.2" cy="478.3" r="6.6"/>
<circle cx="1185.4" cy="480.5" r="6.6"/>
<circle cx="1187.7" cy="482.8" r="6.6"/>
<circle cx="1190.2" cy="484.8" r="6.6"/>
<circle cx="1192.7" cy="486.7" r="6.6"/>
<circle cx="1195.3" cy="488.7" r="6.6"/>
<circle cx="1197.9" cy="490.6" r="6.6"/>
<circle cx="1200.4" cy="492.5" r="6.6"/>
<circle cx="1203.2" cy="494" r="6.6"/>
<circle cx="1206.1" cy="495.5" r="6.6"/>
<circle cx="1208.9" cy="496.9" r="6.6"/>
<circle cx="1211.8" cy="498.3" r="6.6"/>
<circle cx="1214.7" cy="499.6" r="6.6"/>
<circle cx="1217.7" cy="500.7" r="6.6"/>
<circle cx="1220.7" cy="501.9" r="6.6"/>
<circle cx="1223.7" cy="503" r="6.6"/>
<circle cx="1226" cy="503.9" r="6.6"/>
<circle cx="1234" cy="512" r="6.6"/>
<circle cx="1236.6" cy="513.8" r="6.6"/>
<circle cx="1239.3" cy="515.6" r="6.6"/>
<circle cx="1241.4" cy="517.1" r="6.6"/>
<circle cx="1255" cy="521" r="6.6"/>
<circle cx="1257.6" cy="522.9" r="6.6"/>
<circle cx="1260.2" cy="524.8" r="6.6"/>
<circle cx="1262.9" cy="526.4" r="6.6"/>
<circle cx="1265.7" cy="527.9" r="6.6"/>
<circle cx="1266" cy="528" r="6.6"/>
<circle cx="1299.4" cy="531.2" r="6.6"/>
<circle cx="1302.4" cy="532.2" r="6.6"/>
<circle cx="1305.5" cy="533.2" r="6.6"/>
<circle cx="1308.5" cy="534.2" r="6.6"/>
<circle cx="1311.6" cy="535.2" r="6.6"/>
<circle cx="1314.6" cy="536.3" r="6.6"/>
<circle cx="1317.5" cy="537.5" r="6.6"/>
<circle cx="1320.5" cy="538.6" r="6.6"/>
<circle cx="1323.6" cy="539.7" r="6.6"/>
<circle cx="1326.6" cy="540.6" r="6.6"/>
<circle cx="1329.6" cy="541.6" r="6.6"/>
<circle cx="1332.7" cy="542.6" r="6.6"/>
<circle cx="1335.8" cy="543.4" r="6.6"/>
<circle cx="1338.9" cy="544.1" r="6.6"/>
<circle cx="1342" cy="544.8" r="6.6"/>
<circle cx="1345" cy="545.5" r="6.6"/>
<circle cx="1379.3" cy="551.5" r="6.6"/>
<circle cx="1382.4" cy="552.4" r="6.6"/>
<circle cx="1385.5" cy="553.2" r="6.6"/>
<circle cx="1388.5" cy="554.1" r="6.6"/>
<circle cx="1391.6" cy="554.9" r="6.6"/>
<circle cx="1394.7" cy="555.8" r="6.6"/>
<circle cx="1397.8" cy="556.6" r="6.6"/>
<circle cx="1400.9" cy="557.5" r="6.6"/>
<circle cx="1403.9" cy="558.6" r="6.6"/>
<circle cx="1406.9" cy="559.8" r="6.6"/>
<circle cx="1409.9" cy="560.9" r="6.6"/>
<circle cx="1412.7" cy="562" r="6.6"/>
<circle cx="1455.1" cy="568.8" r="6.6"/>
<circle cx="1457.9" cy="570.3" r="6.6"/>
<circle cx="1460.7" cy="571.8" r="6.6"/>
<circle cx="1463.5" cy="573.5" r="6.6"/>
<circle cx="1466.2" cy="575.2" r="6.6"/>
<circle cx="1468.9" cy="576.9" r="6.6"/>
<circle cx="1469.3" cy="577.2" r="6.6"/>
<circle cx="1509.1" cy="578.5" r="6.6"/>
<circle cx="1512.3" cy="578.9" r="6.6"/>
<circle cx="1515.4" cy="579.3" r="6.6"/>
<circle cx="1518.6" cy="579.7" r="6.6"/>
<circle cx="1519.4" cy="579.8" r="6.6"/>
<circle cx="1536.1" cy="581.1" r="6.6"/>
<circle cx="1580" cy="585.5" r="6.6"/>
<circle cx="1583" cy="586.5" r="6.6"/>
<circle cx="1586.1" cy="587.5" r="6.6"/>
<circle cx="1589" cy="588.8" r="6.6"/>
<circle cx="1592" cy="590" r="6.6"/>
<circle cx="1592" cy="590" r="6.6"/>
<circle cx="1651" cy="591" r="6.6"/>
<circle cx="1654.2" cy="591" r="6.6"/>
<circle cx="1657.4" cy="591" r="6.6"/>
<circle cx="1660.6" cy="591" r="6.6"/>
<circle cx="1662" cy="591" r="6.6"/>
</g>
<path d="M1018.8,18 C1019.1,20 1019.4,25.8 1020.6,30 C1021.8,34.2 1024.2,39 1026,43 C1027.8,47 1029.8,50.9 1031.6,54.3 C1033.4,57.7 1035.2,60.7 1037,63.5 C1038.8,66.3 1040.8,69 1042.5,71.3 C1044.2,73.5 1045.9,75.2 1047.5,77 C1049.1,78.8 1050.6,80.4 1052.2,82.2 C1053.8,84 1055.4,85.8 1057,88 C1058.6,90.2 1060.6,93 1061.9,95.5 C1063.2,98 1064,100.2 1065,103 C1066,105.8 1066.8,107.8 1068,112.5 C1069.2,117.2 1070.8,124.8 1072.5,131 C1074.2,137.2 1076.1,142.7 1078.3,150 C1080.5,157.3 1082.6,165 1085.5,175 C1088.4,185 1092.1,197.5 1095.5,210 C1098.9,222.5 1102.1,237.5 1105.7,250 C1109.3,262.5 1113.2,274.2 1117,285 C1120.8,295.8 1124.4,304.2 1128.2,315 C1132,325.8 1136.2,338.3 1140,350 C1143.8,361.7 1147.8,375.8 1151,385 C1154.2,394.2 1156.4,397.2 1159.5,405 C1162.6,412.8 1166.8,424.7 1169.5,431.5 C1172.2,438.3 1173.1,440.7 1175.7,445.7 C1178.3,450.7 1181.7,456.4 1185.1,461.4 C1188.5,466.4 1191.9,471.1 1196.1,475.6 C1200.3,480.1 1206.3,484.7 1210.3,488.5 C1214.3,492.3 1217,495.9 1220,498.5 C1223,501.1 1225.5,502.6 1228.6,503.8 C1231.7,505 1234.8,504.6 1238.6,505.5 C1242.3,506.4 1248.2,508.1 1251.1,509.2 C1254,510.3 1254.2,510.7 1256,512 C1257.8,513.3 1259.2,515.1 1262.1,517.2 C1264.9,519.3 1269.2,522.7 1273.1,524.8 C1277,526.9 1280.7,527.6 1285.7,529.8 C1290.7,531.9 1298.1,535.6 1302.9,537.7 C1307.7,539.8 1310.5,540.6 1314.3,542.3 C1318.1,544 1321.9,546.3 1325.7,548 C1329.5,549.7 1333.3,551.1 1337.1,552.3 C1340.9,553.4 1344.8,553.9 1348.6,554.9 C1352.4,555.9 1356.2,556.5 1360,558 C1363.8,559.5 1367.1,562.3 1371.4,564.2 C1375.7,566.1 1379,568 1385.7,569.5 C1392.4,571 1403.9,571.4 1411.4,572.9 C1418.9,574.4 1423.2,576.5 1430.7,578.5 C1438.2,580.5 1449.9,583.7 1456.4,585 C1463,586.3 1464.7,586 1470,586.5 C1475.3,587 1481.1,587 1488.5,587.7 C1495.9,588.4 1506.7,589.8 1514.2,590.7 C1521.7,591.6 1525.9,592.5 1533.5,593.3 C1541.1,594.1 1552,594.8 1560,595.4 C1568,596 1574.7,596.7 1581.4,597.1 C1588.1,597.5 1579.2,597.5 1600,597.6 C1620.8,597.7 1688.3,597.6 1706,597.6" fill="none" stroke="#ff0000" stroke-width="7" stroke-linejoin="round" stroke-linecap="butt" clip-path="url(#clipb)"/>
<line x1="978.6" y1="18.1" x2="978.6" y2="606.5" stroke="#1a0dff" stroke-width="3.8"/>
<line x1="976.7" y1="20" x2="1705.4" y2="20" stroke="#1a0dff" stroke-width="3.8"/>
<line x1="1705.4" y1="18.1" x2="1705.4" y2="606.5" stroke="#111" stroke-width="3.6"/>
<line x1="988.6" y1="604.6" x2="1707.2" y2="604.6" stroke="#111" stroke-width="3.8"/>
<line x1="976.7" y1="604.6" x2="988.6" y2="604.6" stroke="#1a0dff" stroke-width="3.8"/>
<text x="965.4" y="613" class="b" font-size="24.5" style="fill:#1a0dff" text-anchor="end">0</text>
<text x="965.4" y="548" class="b" font-size="24.5" style="fill:#1a0dff" text-anchor="end" textLength="35.4" lengthAdjust="spacingAndGlyphs">100</text>
<text x="965.4" y="483" class="b" font-size="24.5" style="fill:#1a0dff" text-anchor="end" textLength="35.4" lengthAdjust="spacingAndGlyphs">200</text>
<text x="965.4" y="418" class="b" font-size="24.5" style="fill:#1a0dff" text-anchor="end" textLength="35.4" lengthAdjust="spacingAndGlyphs">300</text>
<text x="965.4" y="353" class="b" font-size="24.5" style="fill:#1a0dff" text-anchor="end" textLength="35.4" lengthAdjust="spacingAndGlyphs">400</text>
<text x="965.4" y="288" class="b" font-size="24.5" style="fill:#1a0dff" text-anchor="end" textLength="35.4" lengthAdjust="spacingAndGlyphs">500</text>
<text x="965.4" y="223" class="b" font-size="24.5" style="fill:#1a0dff" text-anchor="end" textLength="35.4" lengthAdjust="spacingAndGlyphs">600</text>
<text x="965.4" y="158" class="b" font-size="24.5" style="fill:#1a0dff" text-anchor="end" textLength="35.4" lengthAdjust="spacingAndGlyphs">700</text>
<text x="965.4" y="93" class="b" font-size="24.5" style="fill:#1a0dff" text-anchor="end" textLength="35.4" lengthAdjust="spacingAndGlyphs">800</text>
<text x="965.4" y="28" class="b" font-size="24.5" style="fill:#1a0dff" text-anchor="end" textLength="35.4" lengthAdjust="spacingAndGlyphs">900</text>
<text x="977.5" y="636.8" class="b" font-size="25" text-anchor="middle">-4</text>
<text x="1029.5" y="636.8" class="b" font-size="25" text-anchor="middle">-2</text>
<text x="1081.5" y="636.8" class="b" font-size="25" text-anchor="middle">0</text>
<text x="1133.4" y="636.8" class="b" font-size="25" text-anchor="middle">2</text>
<text x="1185.3" y="636.8" class="b" font-size="25" text-anchor="middle">4</text>
<text x="1237.3" y="636.8" class="b" font-size="25" text-anchor="middle">6</text>
<text x="1289.2" y="636.8" class="b" font-size="25" text-anchor="middle">8</text>
<text x="1341.2" y="636.8" class="b" font-size="25" text-anchor="middle">10</text>
<text x="1393.2" y="636.8" class="b" font-size="25" text-anchor="middle">12</text>
<text x="1445.1" y="636.8" class="b" font-size="25" text-anchor="middle">14</text>
<text x="1497" y="636.8" class="b" font-size="25" text-anchor="middle">16</text>
<text x="1549" y="636.8" class="b" font-size="25" text-anchor="middle">18</text>
<text x="1601" y="636.8" class="b" font-size="25" text-anchor="middle">20</text>
<text x="1652.9" y="636.8" class="b" font-size="25" text-anchor="middle">22</text>
<text x="1704.8" y="636.8" class="b" font-size="25" text-anchor="middle">24</text>
<text x="1341.8" y="687.1" class="b" font-size="29" text-anchor="middle" textLength="151" lengthAdjust="spacingAndGlyphs">log(<tspan class="r">ξ</tspan>) (min)</text>
<text transform="translate(915.5,312.3) rotate(-90)" class="b" font-size="29" style="fill:#1a0dff" text-anchor="middle" textLength="156" lengthAdjust="spacingAndGlyphs">E( <tspan class="r">ξ</tspan> ) (Mpa)</text>
<circle cx="1561" cy="53.7" r="6.6" fill="#0000ff"/>
<text x="1605.3" y="65.4" class="lbl" font-size="31.5" fill="#2a2aff" textLength="53.5" lengthAdjust="spacingAndGlyphs">Data</text>
<line x1="1527" y1="92" x2="1595" y2="92" stroke="#ff0000" stroke-width="6.2" stroke-linecap="round"/>
<text x="1604.7" y="102.5" class="lbl" font-size="31.5" fill="#ff1a1a" textLength="76" lengthAdjust="spacingAndGlyphs">Model</text>
</g>
</svg>
</body></html>
